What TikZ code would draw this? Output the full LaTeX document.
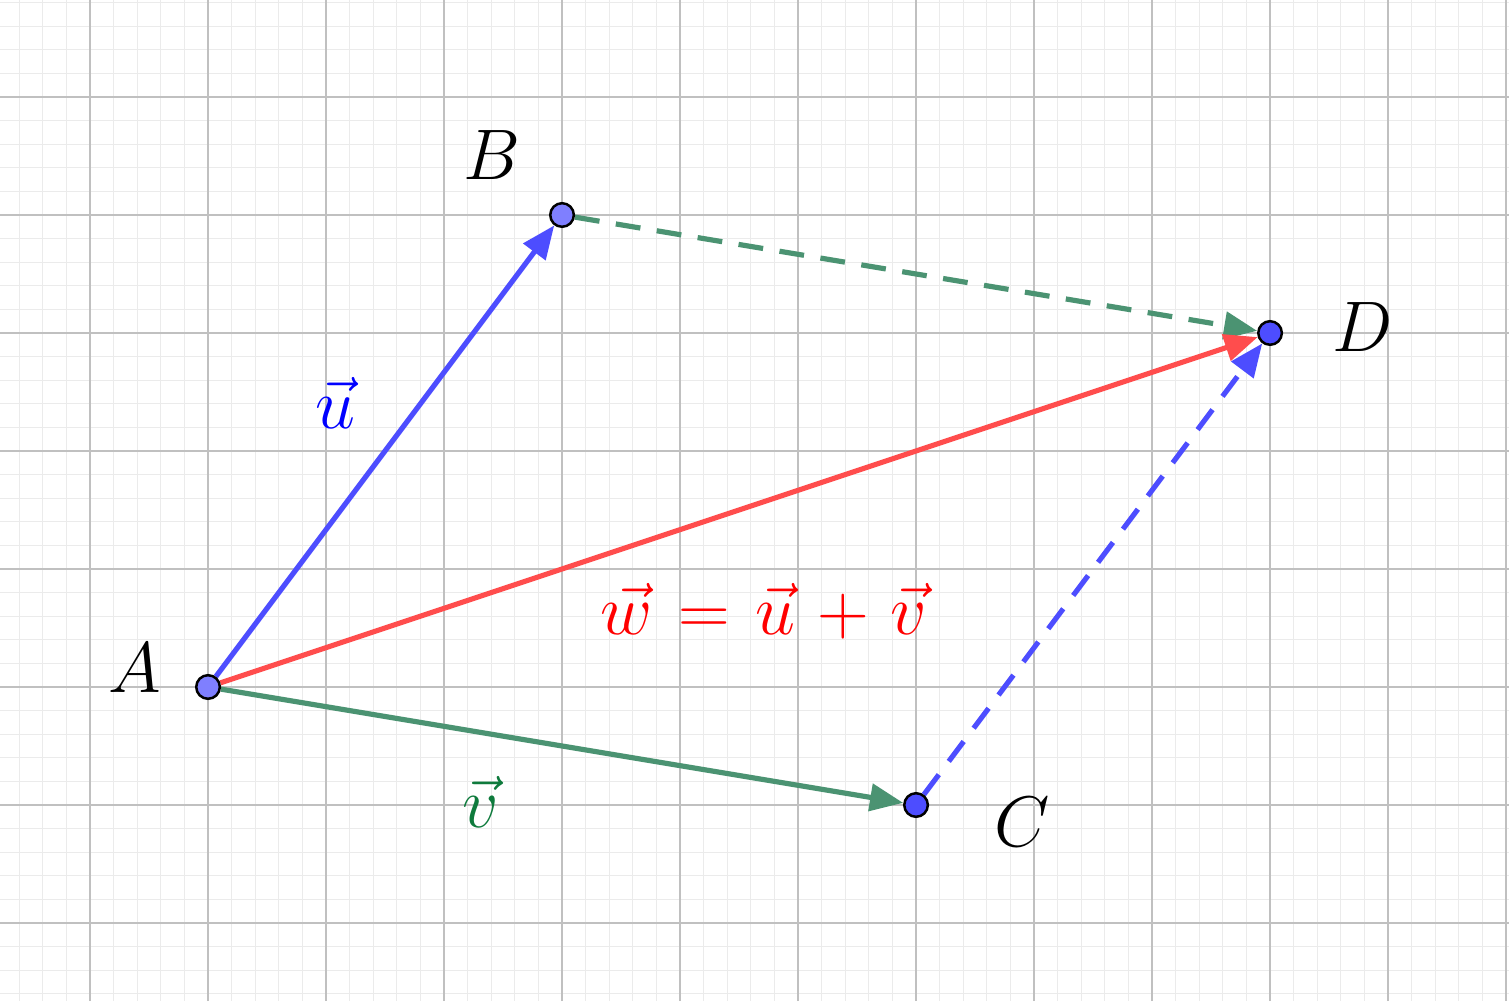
\documentclass[tikz,border=0pt]{standalone}
\usetikzlibrary{arrows.meta, backgrounds}
\definecolor{PtLight}{HTML}{7F7FFF}
\definecolor{PtDark}{HTML}{4D4DFF}
\definecolor{VecBlue}{HTML}{4D4DFF}
\definecolor{VecGreen}{HTML}{4B9372}
\definecolor{VecRed}{HTML}{FF4D4D}
\definecolor{LabGreen}{HTML}{0E7A3C}
\definecolor{GridMinor}{HTML}{EBEBEB}
\definecolor{GridMajor}{HTML}{C0C0C0}

\begin{document}
\begin{tikzpicture}[
			pt/.style={circle,draw=black,line width=0.6pt,inner sep=0pt,minimum size=0.2cm},
			vec/.style={line width=1.25pt,-{Triangle[length=8pt,width=6.5pt]}},
			dashvec/.style={vec,dash pattern=on 6pt off 4pt},
			lab/.style={font=\LARGE}
		]
			\useasboundingbox (-1.763,-2.661) rectangle (11.025,5.822);

			\node (A) [pt,fill=PtLight] at (0,0) {};
			\node (B) [pt,fill=PtLight] at (3,4) {};
			\node (C) [pt,fill=PtDark] at (6,-1) {};
			\node (D) [pt,fill=PtDark] at (9,3) {};

			\begin{scope}[on background layer]
				% grid
				\draw[GridMinor,line width=0.3pt] (-1.763,-2.661) grid[step=0.2] (11.025,5.822);
				\draw[GridMajor,line width=0.45pt] (-1.763,-2.661) grid[step=1] (11.025,5.822);
				% vectors
				\draw[vec,VecBlue] (A) -- (B);
				\draw[vec,VecGreen] (A) -- (C);
				\draw[dashvec,VecGreen] (B) -- (D);
				\draw[dashvec,VecBlue] (C) -- (D);
				\draw[vec,VecRed] (A) -- (D);
			\end{scope}

			\node (labA) [lab] at (-0.62,0.16) {$A$};
			\node (labB) [lab] at (2.41,4.51) {$B$};
			\node (labC) [lab] at (6.90,-1.14) {$C$};
			\node (labD) [lab] at (9.78,3.05) {$D$};
			\node (labU) [lab,blue] at (1.08,2.41) {$\vec{u}$};
			\node (labV) [lab,LabGreen] at (2.31,-0.97) {$\vec{v}$};
			\node (labW) [lab,red] at (4.71,0.64)
				{$\vec{w}\mkern1.5mu=\mkern1.5mu\vec{u}\mkern1.5mu+\mkern1.5mu\vec{v}$};
		\end{tikzpicture}
\end{document}
